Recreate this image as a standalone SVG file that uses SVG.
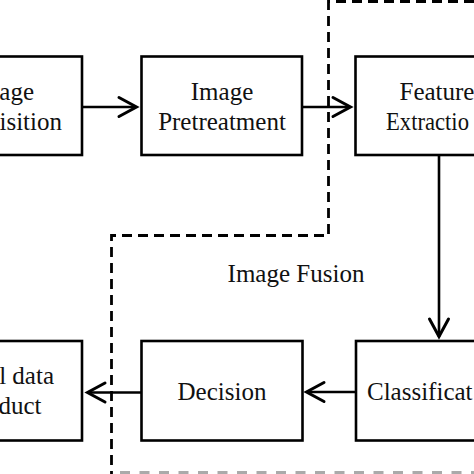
<svg xmlns="http://www.w3.org/2000/svg" width="474" height="474" viewBox="0 0 474 474">
<style>
.box{fill:#fff;stroke:#000;stroke-width:2.6}
.t{font-family:"Liberation Serif","Times New Roman",serif;font-size:25px;fill:#111;text-anchor:middle}
.e{text-anchor:end}
.s{text-anchor:start}
.ln{fill:none;stroke:#000;stroke-width:2.6}
.hd{fill:none;stroke:#000;stroke-width:3;stroke-linecap:round;stroke-linejoin:miter}
.dash{fill:none;stroke:#000;stroke-width:2.8;stroke-dasharray:10 6}
.gdash{fill:none;stroke:#aaa;stroke-width:2.8;stroke-dasharray:10 9.5}
</style>
<rect width="474" height="474" fill="#fff"/>
<g id="fusion-region">
<path class="dash" d="M474 1.5 H328.5 V235.5 H111.5 V474"/>
<line class="gdash" x1="120" y1="472.5" x2="474" y2="472.5"/>
<text class="t" x="296" y="282">Image Fusion</text>
</g>
<g id="acquisition">
<rect class="box" x="-79" y="56.5" width="161" height="98.5"/>
<text class="t e" x="34" y="100">age</text>
<text class="t e" x="62" y="130">isition</text>
</g>
<g id="pretreatment">
<rect class="box" x="141.5" y="56.5" width="160.5" height="98.5"/>
<text class="t" x="222" y="100">Image</text>
<text class="t" x="222" y="130">Pretreatment</text>
</g>
<g id="feature">
<rect class="box" x="355.5" y="56.5" width="162" height="98.5"/>
<text class="t s" x="399.5" y="100">Feature</text>
<text class="t s" x="386" y="130" textLength="83" lengthAdjust="spacingAndGlyphs">Extractio</text>
</g>
<g id="classification">
<rect class="box" x="356" y="341" width="162" height="99.5"/>
<text class="t s" x="367" y="400">Classificat</text>
</g>
<g id="decision">
<rect class="box" x="141.5" y="341" width="161" height="99.5"/>
<text class="t" x="222" y="400">Decision</text>
</g>
<g id="product">
<rect class="box" x="-79" y="341" width="161" height="99.5"/>
<text class="t e" x="54" y="384">l data</text>
<text class="t e" x="41.5" y="414">duct</text>
</g>
<g id="connectors">
<line class="ln" x1="82" y1="107" x2="136" y2="107"/>
<path class="hd" d="M119 97.5 L136.5 107 L119 116.5"/>
<line class="ln" x1="302" y1="107" x2="350" y2="107"/>
<path class="hd" d="M333 97.5 L350.5 107 L333 116.5"/>
<line class="ln" x1="439" y1="155" x2="439" y2="337"/>
<path class="hd" d="M429.5 319 L439 336.5 L448.5 319"/>
<line class="ln" x1="356" y1="392" x2="307" y2="392"/>
<path class="hd" d="M324 382.5 L306.5 392 L324 401.5"/>
<line class="ln" x1="141.5" y1="392.5" x2="88" y2="392.5"/>
<path class="hd" d="M105 383 L87.5 392.5 L105 402"/>
</g>
</svg>
